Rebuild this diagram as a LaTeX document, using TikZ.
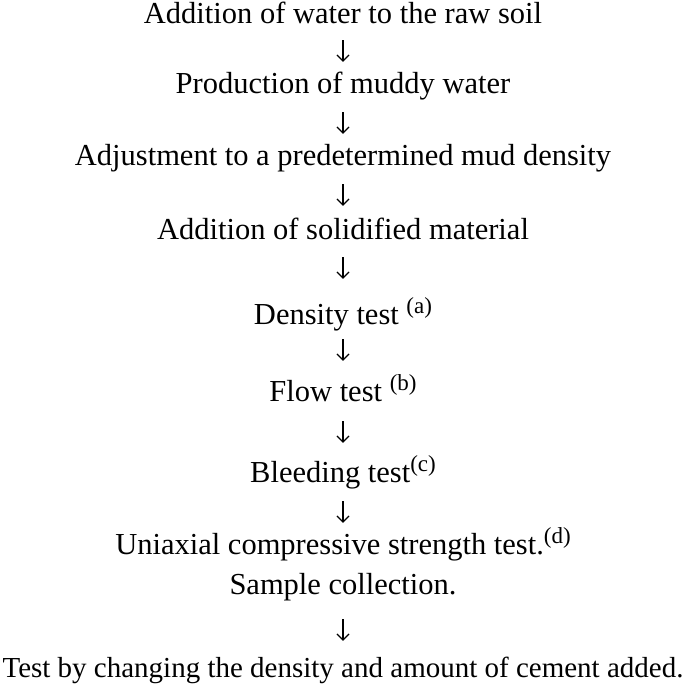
\documentclass[tikz,border=0pt]{standalone}
\usepackage{fontspec}
\setmainfont{Liberation Serif}
\usetikzlibrary{arrows.meta}
\newcommand{\stepnote}[1]{{\fontsize{23}{23}\selectfont\raisebox{11pt}{(#1)}}}
\begin{document}
\begin{tikzpicture}[x=1pt, y=1pt,
    step label/.style={anchor=base, inner sep=0pt, text height=20pt, text depth=7pt,
      font=\fontsize{30.5}{36}\selectfont},
    flow arrow/.style={line width=1.2pt, -{Straight Barb[length=6pt,width=12pt,line width=1.2pt]}}]
    \useasboundingbox (0,0) rectangle (685,-687);
    % steps, one per line
    \node[step label] (water)    at (343,-23.5) {Addition of water to the raw soil};
    \node[step label] (muddy)    at (343,-94)  {Production of muddy water};
    \node[step label] (adjust)   at (343,-166) {Adjustment to a predetermined mud density};
    \node[step label] (solid)    at (343,-239) {Addition of solidified material};
    \node[step label] (density)  at (343,-324) {Density test \stepnote{a}};
    \node[step label] (flow)     at (343,-401) {Flow test \stepnote{b}};
    \node[step label] (bleed)    at (343,-482) {Bleeding test\stepnote{c}};
    \node[step label] (uniaxial) at (343,-554) {Uniaxial compressive strength test.\stepnote{d}};
    \node[step label] (sample)   at (343,-594) {Sample collection.};
    \node[step label, font=\fontsize{29}{35}\selectfont] (change) at (343,-677)
      {Test by changing the density and amount of cement added.};
    % arrows between the steps
    \draw[flow arrow, shorten <=9.5pt, shorten >=12pt] (water)  -- (muddy);
    \draw[flow arrow, shorten <=11pt, shorten >=12pt] (muddy)   -- (adjust);
    \draw[flow arrow, shorten <=11pt, shorten >=13pt] (adjust)  -- (solid);
    \draw[flow arrow, shorten <=11pt, shorten >=25pt] (solid)   -- (density);
    \draw[flow arrow, shorten <=8pt,  shorten >=20pt] (density) -- (flow);
    \draw[flow arrow, shorten <=13pt, shorten >=19pt] (flow)    -- (bleed);
    \draw[flow arrow, shorten <=12pt, shorten >=11pt] (bleed)   -- (uniaxial);
    \draw[flow arrow, shorten <=18pt, shorten >=16pt] (sample)  -- (change);
  \end{tikzpicture}
\end{document}
